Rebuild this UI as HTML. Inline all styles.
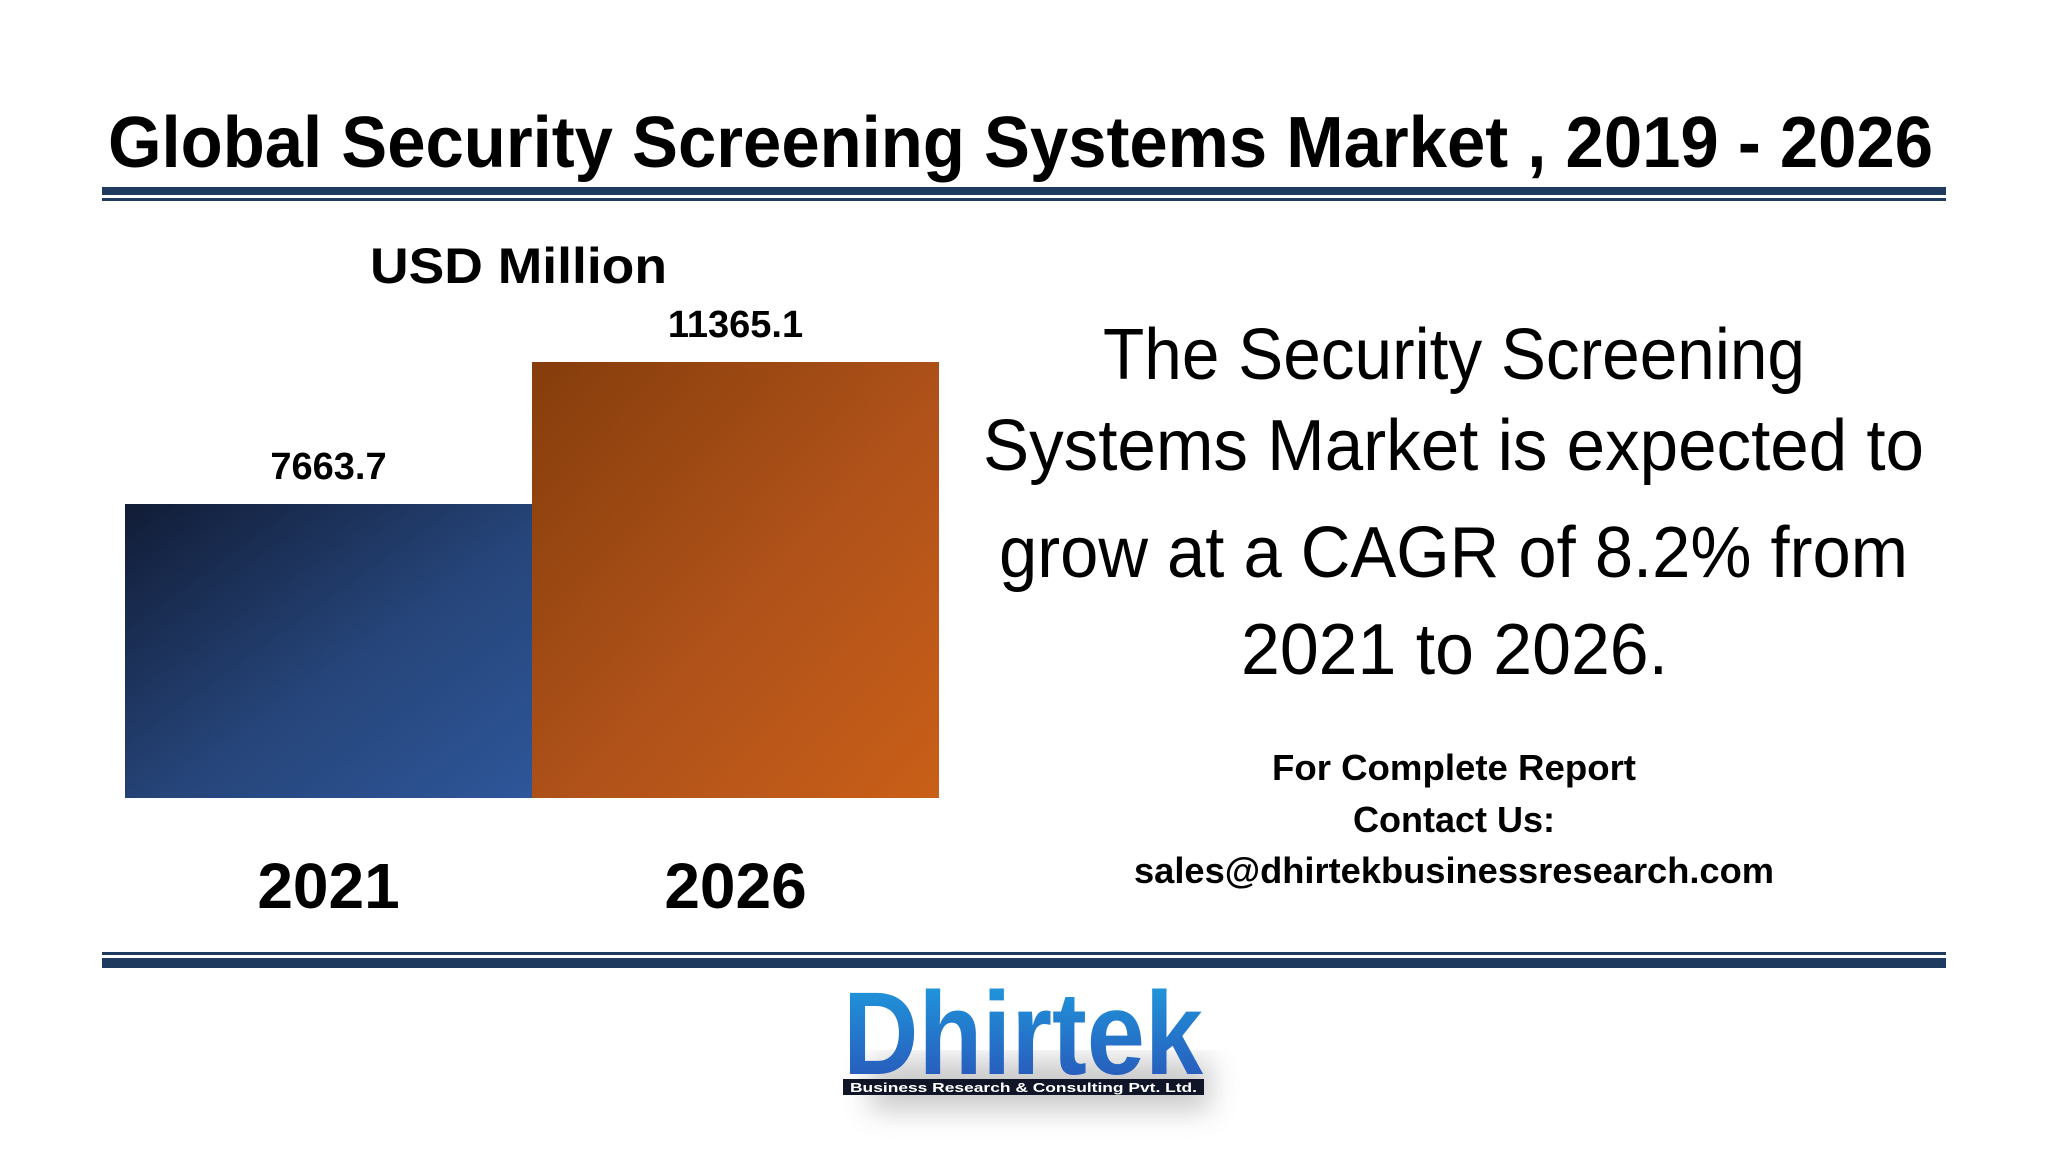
<!DOCTYPE html>
<html><head><meta charset="utf-8"><style>
html,body{margin:0;padding:0;background:#fff;width:2048px;height:1152px;overflow:hidden}
svg{display:block}
text{font-family:"Liberation Sans",sans-serif}
</style></head><body>
<svg id="chart" width="2048" height="1152" viewBox="0 0 2048 1152">
<defs>
<linearGradient id="g1" x1="0" y1="0" x2="1" y2="1"><stop offset="0" stop-color="#111c36"/><stop offset="0.55" stop-color="#26457a"/><stop offset="1" stop-color="#2e5699"/></linearGradient>
<linearGradient id="g2" x1="0" y1="0" x2="1" y2="1"><stop offset="0" stop-color="#853d0b"/><stop offset="0.55" stop-color="#b0521a"/><stop offset="1" stop-color="#c95f18"/></linearGradient>
<linearGradient id="lg" x1="0" y1="0" x2="0" y2="1"><stop offset="0" stop-color="#1ea0e0"/><stop offset="1" stop-color="#2a4fb5"/></linearGradient>
<filter id="sh" x="-20%" y="-20%" width="140%" height="180%"><feGaussianBlur stdDeviation="14"/></filter>
</defs>
<text x="108" y="167" font-size="72" font-weight="bold" fill="#000" textLength="1825" lengthAdjust="spacingAndGlyphs">Global Security Screening Systems Market , 2019 - 2026</text>
<rect x="102" y="187" width="1844" height="8" fill="#1f3a5f"/>
<rect x="102" y="198" width="1844" height="3" fill="#1f3a5f"/>
<text x="370" y="283" font-size="50" font-weight="bold" fill="#000" textLength="297" lengthAdjust="spacingAndGlyphs">USD Million</text>
<g id="bars"></g>
<g font-size="72" fill="#000">
<text x="1103" y="379" textLength="702" lengthAdjust="spacingAndGlyphs">The Security Screening</text>
<text x="983" y="470" textLength="941" lengthAdjust="spacingAndGlyphs">Systems Market is expected to</text>
<text x="999" y="577" textLength="909" lengthAdjust="spacingAndGlyphs">grow at a CAGR of 8.2% from</text>
<text x="1241" y="674" textLength="427" lengthAdjust="spacingAndGlyphs">2021 to 2026.</text>
</g>
<g font-size="36" font-weight="bold" fill="#000">
<text x="1272" y="780" textLength="364" lengthAdjust="spacingAndGlyphs">For Complete Report</text>
<text x="1353" y="832" textLength="202" lengthAdjust="spacingAndGlyphs">Contact Us:</text>
<text x="1134" y="883" textLength="640" lengthAdjust="spacingAndGlyphs">sales@dhirtekbusinessresearch.com</text>
</g>
<rect x="102" y="952" width="1844" height="3" fill="#1f3a5f"/>
<rect x="102" y="958" width="1844" height="10" fill="#1f3a5f"/>
<g>
<rect x="870" y="1060" width="340" height="50" fill="#888" opacity="0.45" filter="url(#sh)"/>
<text x="843" y="1074" font-size="118" font-weight="bold" fill="url(#lg)" textLength="360" lengthAdjust="spacingAndGlyphs">Dhirtek</text>
<rect x="843" y="1079" width="361" height="16" fill="#111528"/>
<text x="850" y="1092" font-size="13" font-weight="bold" fill="#fff" textLength="347" lengthAdjust="spacingAndGlyphs">Business Research &amp; Consulting Pvt. Ltd.</text>
</g>
</svg>
<script>
const categories = ["2021", "2026"];
const values = [7663.7, 11365.1];
const valueLabels = ["7663.7", "11365.1"];
const NS = "http://www.w3.org/2000/svg";
const g = document.getElementById("bars");
const x0 = 125, bw = 407, base = 798, hMax = 436, vMax = 11365.1;
function xs(i){ return x0 + i * bw; }
function ys(v){ return base - v / vMax * hMax; }
const fills = ["url(#g1)", "url(#g2)"];
const labW = [[124],[148]];
categories.forEach((c, i) => {
  const r = document.createElementNS(NS, "rect");
  r.setAttribute("x", xs(i)); r.setAttribute("y", ys(values[i]));
  r.setAttribute("width", bw); r.setAttribute("height", base - ys(values[i]));
  r.setAttribute("fill", fills[i]);
  
  
  g.appendChild(r);
  const t = document.createElementNS(NS, "text");
  t.setAttribute("x", xs(i) + bw / 2); t.setAttribute("y", ys(values[i]) - 25);
  t.setAttribute("text-anchor", "middle"); t.setAttribute("font-size", "38"); t.setAttribute("font-weight", "bold");
  t.textContent = valueLabels[i];
  
  
  g.appendChild(t);
  const y = document.createElementNS(NS, "text");
  y.setAttribute("x", xs(i) + bw / 2); y.setAttribute("y", 908);
  y.setAttribute("text-anchor", "middle"); y.setAttribute("font-size", "64"); y.setAttribute("font-weight", "bold");
  y.textContent = c;
  
  
  g.appendChild(y);
});
</script>
</body></html>
